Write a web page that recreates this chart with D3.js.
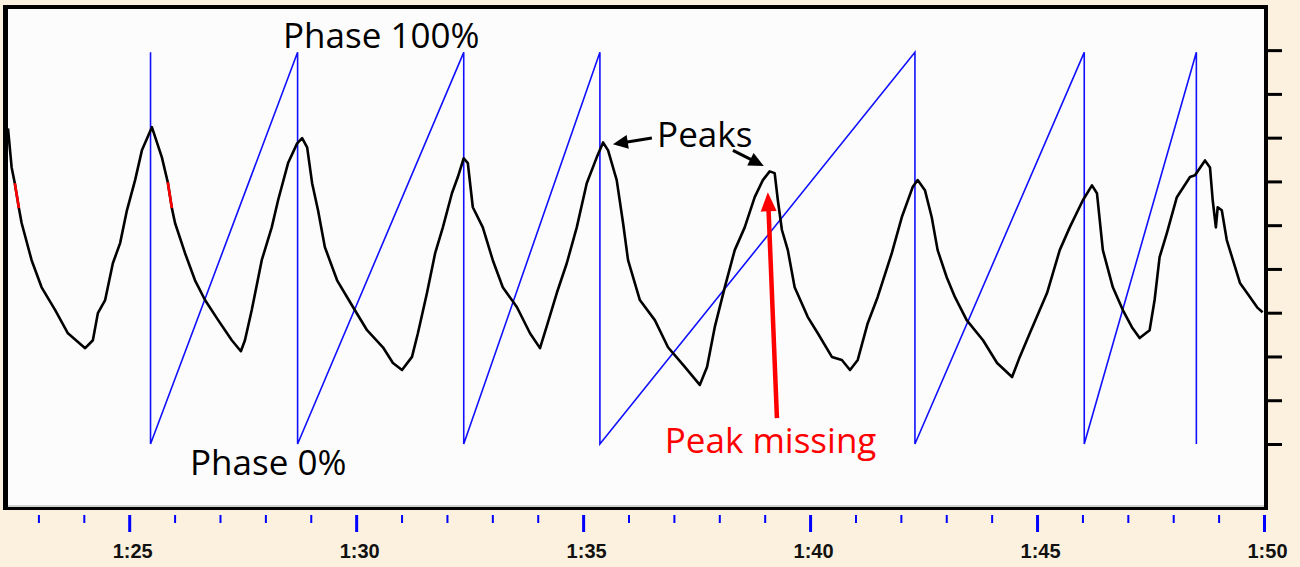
<!DOCTYPE html>
<html>
<head>
<meta charset="utf-8">
<script src="https://cdn.jsdelivr.net/npm/d3@7"></script>
<style>
  html, body { margin: 0; padding: 0; background: #fbf1de; }
  svg { display: block; }
  .xlab { font-family: "Liberation Sans", Arial, sans-serif; font-weight: bold; font-size: 20px; fill: #111; }
  .note { font-family: "Open Sans", sans-serif; font-size: 35px; }
</style>
</head>
<body>
<svg id="chart" width="1300" height="567"></svg>
<script>
// Data ==================================================================

// signal trace, time in seconds (1:22.3 .. 1:50), value in right-tick units
var sigTime = [82.33, 82.41, 82.48, 82.57, 82.63, 82.85, 83.07, 83.37, 83.65, 84.03, 84.20, 84.31, 84.47, 84.64, 84.80, 84.95, 85.13, 85.28, 85.50,
  85.72, 85.85, 85.94, 86.01, 86.23, 86.45, 86.67, 86.96, 87.26, 87.46, 87.55, 87.70, 87.92, 88.14, 88.28, 88.50, 88.70, 88.81,
  88.92, 89.03, 89.16, 89.31, 89.58, 89.93, 90.24, 90.59, 90.81, 91.01, 91.23, 91.36, 91.56, 91.74, 91.91, 92.11, 92.24, 92.37,
  92.46, 92.57, 92.79, 93.01, 93.23, 93.54, 93.83, 94.05, 94.22, 94.42, 94.64, 94.86, 95.08, 95.30, 95.44,
  95.55, 95.74, 95.88, 95.99, 96.25, 96.58, 96.87, 97.24, 97.57, 97.73, 97.90, 98.12, 98.34, 98.56, 98.78, 98.96, 99.11,
  99.22, 99.29, 99.38, 99.51, 99.66, 99.95, 100.17, 100.48, 100.70, 100.88, 101.05, 101.27, 101.49, 101.80, 102.02, 102.26, 102.37,
  102.53, 102.68, 102.81, 103.01, 103.19, 103.45, 103.81, 104.12, 104.45, 104.62, 104.84, 105.22, 105.50, 105.72, 106.01, 106.21,
  106.32, 106.45, 106.67, 106.89, 107.09, 107.26, 107.48, 107.59, 107.70, 107.86, 108.08, 108.37, 108.48, 108.70,
  108.81, 108.87, 108.94, 108.98, 109.07, 109.18, 109.47, 109.69, 109.86, 109.97];
var sigValue = [7.21, 6.32, 5.96, 5.39, 5.05, 4.20, 3.58, 3.06, 2.53, 2.19, 2.37, 2.99, 3.29, 4.13, 4.59, 5.34, 6.03, 6.71, 7.24,
  6.55, 5.98, 5.39, 5.05, 4.36, 3.74, 3.29, 2.83, 2.37, 2.12, 2.37, 3.06, 4.20, 4.95, 5.57, 6.42, 6.87, 6.99,
  6.78, 5.96, 5.34, 4.50, 3.74, 3.13, 2.60, 2.21, 1.85, 1.69, 1.99, 2.53, 3.45, 4.36, 4.95, 5.73, 6.10, 6.53,
  6.42, 5.41, 4.95, 4.20, 3.58, 3.13, 2.53, 2.19, 2.76, 3.45, 4.13, 4.95, 5.96, 6.55, 6.89,
  6.71, 6.03, 5.05, 4.20, 3.29, 2.83, 2.21, 1.76, 1.35, 1.76, 2.67, 3.58, 4.43, 4.95, 5.64, 6.03, 6.23,
  6.19, 5.57, 4.89, 4.43, 3.58, 2.90, 2.53, 1.99, 1.92, 1.69, 1.92, 2.76, 3.36, 4.36, 5.18, 5.87, 6.03,
  5.80, 5.18, 4.43, 3.81, 3.36, 2.83, 2.37, 1.85, 1.53, 1.99, 2.53, 3.45, 4.43, 4.95, 5.57, 5.91,
  5.73, 4.43, 3.58, 3.06, 2.67, 2.42, 2.60, 3.29, 4.27, 4.82, 5.64, 6.10, 6.14, 6.48,
  6.32, 5.57, 4.95, 5.41, 5.34, 4.66, 3.68, 3.36, 3.11, 3.01];

// stretches of the trace drawn in red
var redSegments = [[82.47, 82.58], [85.84, 85.95]];

// phase resets (phase jumps 100% -> 0%)
var phaseResets = [85.47, 88.71, 92.37, 95.37, 102.31, 106.04, 108.51];

// axis ticks
var minorTicks = d3.range(83, 111, 1);
var majorTicks = [85, 90, 95, 100, 105, 110];
var rightTicks = d3.range(0, 10, 1);

// Setup =================================================================

var svg = d3.select("#chart");

var x = d3.scaleLinear().domain([82.33, 110]).range([8, 1264]);
var y = d3.scaleLinear().domain([-1.44, 9.94]).range([507, 9]);
// phase percent on the same vertical space: 0% at tick 0, 100% just under tick 9
var p = d3.scaleLinear().domain([0, 100]).range([y(0), y(8.95)]);

function fmtTime(s) {
	var m = Math.floor(s / 60), r = Math.round(s - m * 60);
	return m + ":" + (r < 10 ? "0" : "") + r;
}

// plot area
svg.append("rect")
	.attr("x", x.range()[0]).attr("y", y.range()[1])
	.attr("width", x.range()[1] - x.range()[0])
	.attr("height", y.range()[0] - y.range()[1])
	.attr("fill", "#fcfcfc");

svg.append("defs").append("clipPath").attr("id", "plotclip")
	.append("rect")
	.attr("x", x.range()[0]).attr("y", y.range()[1])
	.attr("width", x.range()[1] - x.range()[0])
	.attr("height", y.range()[0] - y.range()[1]);

var plot = svg.append("g").attr("clip-path", "url(#plotclip)");

// Phase sawtooth ========================================================

var phasePts = [];
phaseResets.forEach(function (t) {
	phasePts.push([t, 100]);
	phasePts.push([t, 0]);
});

plot.append("path")
	.datum(phasePts)
	.attr("fill", "none")
	.attr("stroke", "#1010ff")
	.attr("stroke-width", 1.6)
	.attr("d", d3.line().x(function (d) { return x(d[0]); }).y(function (d) { return p(d[1]); }));

// Signal ================================================================

var sig = sigTime.map(function (t, i) { return [t, sigValue[i]]; });
var sigLine = d3.line().x(function (d) { return x(d[0]); }).y(function (d) { return y(d[1]); });

plot.append("path")
	.datum(sig)
	.attr("fill", "none")
	.attr("stroke", "#000")
	.attr("stroke-width", 2.6)
	.attr("stroke-linejoin", "round")
	.attr("d", sigLine);

redSegments.forEach(function (seg) {
	plot.append("path")
		.datum(sig.filter(function (d) { return d[0] >= seg[0] && d[0] <= seg[1]; }))
		.attr("fill", "none")
		.attr("stroke", "#ff0000")
		.attr("stroke-width", 2.6)
		.attr("d", sigLine);
});

// Frame =================================================================

var x0 = x.range()[0], x1 = x.range()[1], yTop = y.range()[1], yBot = y.range()[0];
svg.append("line").attr("x1", x0 - 2.5).attr("x2", x0 - 2.5).attr("y1", yTop - 4).attr("y2", yBot + 3)
	.attr("stroke", "#000").attr("stroke-width", 5);
svg.append("line").attr("x1", x0 - 5).attr("x2", x1 + 4).attr("y1", yTop - 2).attr("y2", yTop - 2)
	.attr("stroke", "#000").attr("stroke-width", 4);
svg.append("line").attr("x1", x1 + 2).attr("x2", x1 + 2).attr("y1", yTop - 4).attr("y2", yBot + 3)
	.attr("stroke", "#000").attr("stroke-width", 4);
svg.append("line").attr("x1", x0 - 5).attr("x2", x1 + 4).attr("y1", yBot + 1.5).attr("y2", yBot + 1.5)
	.attr("stroke", "#000").attr("stroke-width", 3);
svg.append("line").attr("x1", x0).attr("x2", x1).attr("y1", yBot - 1).attr("y2", yBot - 1)
	.attr("stroke", "#aaa").attr("stroke-width", 1);

// Axes ==================================================================

// right-side ticks
var rAxis = svg.append("g")
	.attr("transform", "translate(" + (x1 + 3) + ",0)")
	.call(d3.axisRight(y).tickValues(rightTicks).tickSize(15).tickFormat(""));
rAxis.select(".domain").remove();
rAxis.selectAll(".tick line").attr("stroke", "#000").attr("stroke-width", 3);

// bottom minor ticks
var minorAxis = svg.append("g")
	.attr("transform", "translate(0,515)")
	.call(d3.axisBottom(x).tickValues(minorTicks.filter(function (t) { return majorTicks.indexOf(t) < 0; }))
		.tickSize(8).tickFormat(""));
minorAxis.select(".domain").remove();
minorAxis.selectAll(".tick line").attr("stroke", "#0000ff").attr("stroke-width", 2);

// bottom major ticks + labels
var majorAxis = svg.append("g")
	.attr("transform", "translate(0,515)")
	.call(d3.axisBottom(x).tickValues(majorTicks).tickSize(17).tickPadding(12).tickFormat(fmtTime));
majorAxis.select(".domain").remove();
majorAxis.selectAll(".tick line").attr("stroke", "#0000ff").attr("stroke-width", 3);
majorAxis.selectAll(".tick text")
	.attr("class", "xlab")
	.attr("dx", 3)
	.attr("font-size", null).attr("font-family", null).attr("fill", null);

// Annotations ===========================================================

var notes = [
	{ text: "Phase 100%", t: 88.39, v: 9.04, color: "#000" },
	{ text: "Phase 0%", t: 86.34, v: -0.71, color: "#000" },
	{ text: "Peaks", t: 96.63, v: 6.78, color: "#000" },
	{ text: "Peak missing", t: 96.80, v: -0.21, color: "#f00" }
];

svg.selectAll("text.note")
	.data(notes)
	.enter().append("text")
	.attr("class", "note")
	.attr("x", function (d) { return x(d.t); })
	.attr("y", function (d) { return y(d.v); })
	.attr("fill", function (d) { return d.color; })
	.text(function (d) { return d.text; });

var arrows = [
	{ from: [96.515, 6.99], to: [95.656, 6.85], color: "#000", width: 3, head: 15, half: 7 },
	{ from: [98.30, 6.71], to: [98.98, 6.35], color: "#000", width: 3, head: 15, half: 7 },
	{ from: [99.27, 0.59], to: [99.07, 5.75], color: "#f00", width: 4.5, head: 19, half: 8 }
];

arrows.forEach(function (a) {
	var fx = x(a.from[0]), fy = y(a.from[1]), tx = x(a.to[0]), ty = y(a.to[1]);
	var dx = tx - fx, dy = ty - fy, len = Math.sqrt(dx * dx + dy * dy);
	var ux = dx / len, uy = dy / len;
	var bx = tx - ux * a.head, by = ty - uy * a.head;
	svg.append("line")
		.attr("x1", fx).attr("y1", fy).attr("x2", bx + ux * 2).attr("y2", by + uy * 2)
		.attr("stroke", a.color).attr("stroke-width", a.width);
	svg.append("path")
		.attr("d", "M" + tx + "," + ty
			+ "L" + (bx - uy * a.half) + "," + (by + ux * a.half)
			+ "L" + (bx + uy * a.half) + "," + (by - ux * a.half) + "Z")
		.attr("fill", a.color);
});
</script>
</body>
</html>
